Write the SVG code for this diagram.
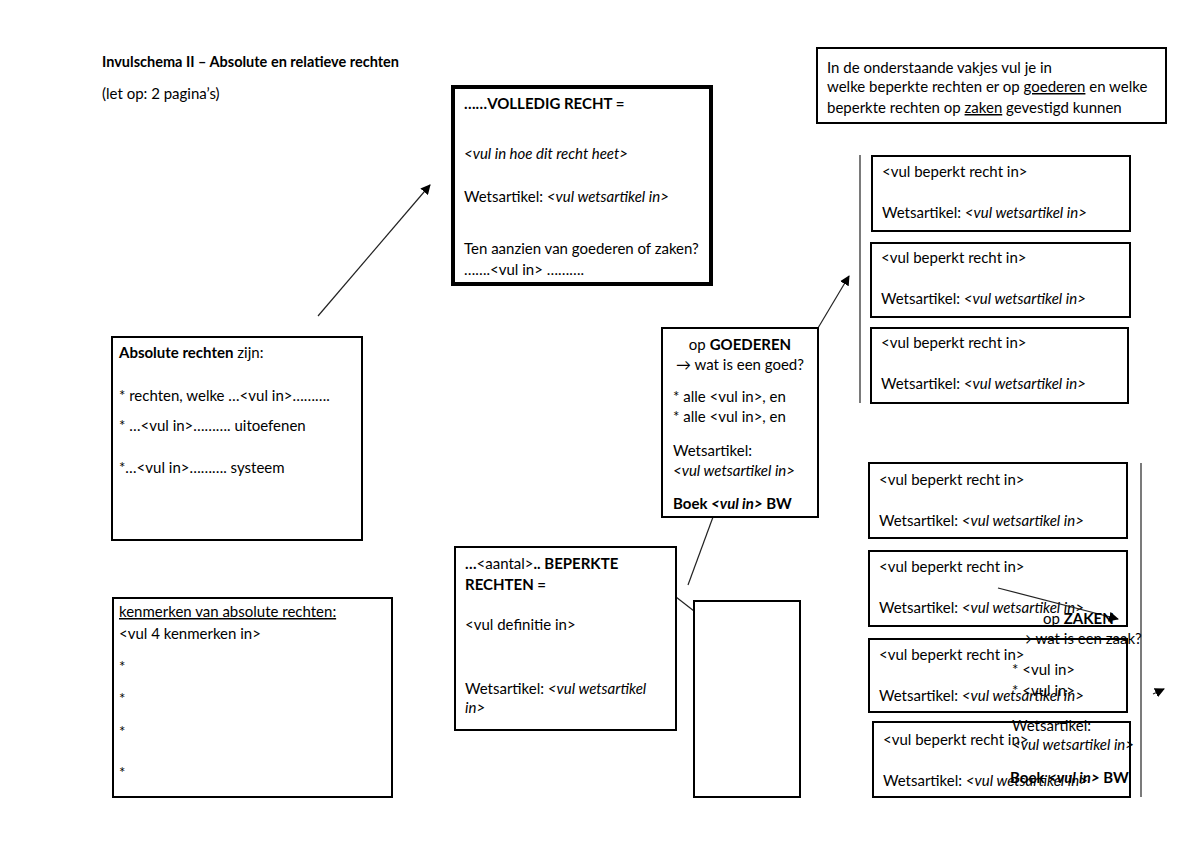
<svg xmlns="http://www.w3.org/2000/svg" width="1200" height="848" viewBox="0 0 1200 848">
<style>
.t{font-family:Lato,"Liberation Sans",sans-serif;font-size:15px;fill:#000}
.b{font-weight:bold}
.i{font-style:italic}
.u{text-decoration:underline}
.box{fill:#fff;stroke:#000;stroke-width:2}
.ln{stroke:#222;stroke-width:1.2;fill:none}
</style>
<defs>
<marker id="ah" viewBox="0 0 10 10" refX="9" refY="5" markerWidth="10" markerHeight="10" markerUnits="userSpaceOnUse" orient="auto">
<path d="M0,0 L10,5 L0,10 z" fill="#000"/>
</marker>
</defs>
<rect width="1200" height="848" fill="#fff"/>

<g id="title">
<text class="t b" x="102" y="67" style="font-size:14.5px">Invulschema II – Absolute en relatieve rechten</text>
<text class="t" x="102" y="99">(let op: 2 pagina’s)</text>
</g>

<g id="connectors">
<line class="ln" x1="318" y1="316" x2="430" y2="185" marker-end="url(#ah)"/>
<line class="ln" x1="818" y1="328" x2="849" y2="276" marker-end="url(#ah)"/>
<line class="ln" x1="713" y1="517" x2="688" y2="585"/>
<line class="ln" x1="676" y1="597" x2="694" y2="611"/>
<line class="ln" x1="860" y1="155" x2="860" y2="403"/>
<line class="ln" x1="1141" y1="463" x2="1141" y2="797"/>
</g>

<g id="volledig">
<rect x="453" y="87" width="258" height="197" fill="#fff" stroke="#000" stroke-width="4"/>
<text class="t b" x="464" y="109">……VOLLEDIG RECHT =</text>
<text class="t i" x="464" y="159">&lt;vul in hoe dit recht heet&gt;</text>
<text class="t" x="464" y="202">Wetsartikel: <tspan class="i">&lt;vul wetsartikel in&gt;</tspan></text>
<text class="t" x="464" y="254">Ten aanzien van goederen of zaken?</text>
<text class="t" x="464" y="275">…….&lt;vul in&gt; ……….</text>
</g>

<g id="note">
<rect class="box" x="817" y="48" width="349" height="75"/>
<text class="t" x="827" y="73">In de onderstaande vakjes vul je in</text>
<text class="t" x="827" y="92">welke beperkte rechten er op <tspan class="u">goederen</tspan> en welke</text>
<text class="t" x="827" y="113">beperkte rechten op <tspan class="u">zaken</tspan> gevestigd kunnen</text>
</g>

<g id="recht1">
<rect class="box" x="872" y="156" width="258" height="75"/>
<text class="t" x="882" y="177">&lt;vul beperkt recht in&gt;</text>
<text class="t" x="882" y="218">Wetsartikel:  <tspan class="i">&lt;vul wetsartikel in&gt;</tspan></text>
</g>
<g id="recht2">
<rect class="box" x="871" y="243" width="259" height="74"/>
<text class="t" x="881" y="263">&lt;vul beperkt recht in&gt;</text>
<text class="t" x="881" y="304">Wetsartikel:  <tspan class="i">&lt;vul wetsartikel in&gt;</tspan></text>
</g>
<g id="recht3">
<rect class="box" x="871" y="328" width="257" height="75"/>
<text class="t" x="881" y="348">&lt;vul beperkt recht in&gt;</text>
<text class="t" x="881" y="389">Wetsartikel:  <tspan class="i">&lt;vul wetsartikel in&gt;</tspan></text>
</g>

<g id="goederen">
<rect class="box" x="662" y="328" width="156" height="189"/>
<text class="t" x="740" y="350" text-anchor="middle">op <tspan class="b">GOEDEREN</tspan></text>
<text class="t" x="740" y="370" text-anchor="middle">→ wat is een goed?</text>
<text class="t" x="673" y="402">* alle &lt;vul in&gt;, en</text>
<text class="t" x="673" y="422">* alle &lt;vul in&gt;, en</text>
<text class="t" x="673" y="456">Wetsartikel:</text>
<text class="t i" x="673" y="476">&lt;vul wetsartikel in&gt;</text>
<text class="t b" x="673" y="509">Boek <tspan class="i">&lt;vul in&gt;</tspan> BW</text>
</g>

<g id="absolute">
<rect class="box" x="112" y="337" width="250" height="203"/>
<text class="t" x="119" y="358"><tspan class="b">Absolute rechten</tspan> zijn:</text>
<text class="t" x="119" y="401">* rechten, welke …&lt;vul in&gt;……….</text>
<text class="t" x="119" y="431">* …&lt;vul in&gt;………. uitoefenen</text>
<text class="t" x="119" y="473">*…&lt;vul in&gt;………. systeem</text>
</g>

<g id="kenmerken">
<rect class="box" x="113" y="598" width="279" height="199"/>
<text class="t u" x="119" y="617">kenmerken van absolute rechten:</text>
<text class="t" x="119" y="639">&lt;vul 4 kenmerken in&gt;</text>
<text class="t" x="119" y="672">*</text>
<text class="t" x="119" y="704">*</text>
<text class="t" x="119" y="737">*</text>
<text class="t" x="119" y="778">*</text>
</g>

<g id="beperkte">
<rect class="box" x="455" y="547" width="221" height="183"/>
<text class="t" x="465" y="569"><tspan class="b">…</tspan>&lt;aantal&gt;<tspan class="b">.. BEPERKTE</tspan></text>
<text class="t b" x="465" y="590">RECHTEN =</text>
<text class="t" x="465" y="630">&lt;vul definitie in&gt;</text>
<text class="t" x="465" y="694">Wetsartikel:  <tspan class="i">&lt;vul wetsartikel</tspan></text>
<text class="t i" x="465" y="713">in&gt;</text>
</g>

<g id="leeg">
<rect class="box" x="694" y="601" width="106" height="196"/>
</g>

<g id="recht4">
<rect class="box" x="869" y="463" width="258" height="75"/>
<text class="t" x="879" y="485">&lt;vul beperkt recht in&gt;</text>
<text class="t" x="879" y="526">Wetsartikel:  <tspan class="i">&lt;vul wetsartikel in&gt;</tspan></text>
</g>
<g id="recht5">
<rect class="box" x="869" y="551" width="258" height="75"/>
<text class="t" x="879" y="572">&lt;vul beperkt recht in&gt;</text>
<text class="t" x="879" y="613">Wetsartikel:  <tspan class="i">&lt;vul wetsartikel in&gt;</tspan></text>
</g>
<g id="recht6">
<rect class="box" x="869" y="639" width="258" height="73"/>
<text class="t" x="879" y="660">&lt;vul beperkt recht in&gt;</text>
<text class="t" x="879" y="701">Wetsartikel:  <tspan class="i">&lt;vul wetsartikel in&gt;</tspan></text>
</g>
<g id="recht7">
<rect class="box" x="873" y="722" width="257" height="75"/>
<text class="t" x="883" y="745">&lt;vul beperkt recht in&gt;</text>
<text class="t" x="883" y="786">Wetsartikel:  <tspan class="i">&lt;vul wetsartikel in&gt;</tspan></text>
</g>

<g id="zaken">
<line class="ln" x1="998" y1="588" x2="1118" y2="619" marker-end="url(#ah)"/>
<text class="t" x="1043" y="624">op <tspan class="b">ZAKEN</tspan></text>
<text class="t" x="1017" y="644">→ wat is een zaak?</text>
<text class="t" x="1012" y="675">* &lt;vul in&gt;</text>
<text class="t" x="1012" y="696">* &lt;vul in&gt;</text>
<text class="t" x="1012" y="731">Wetsartikel:</text>
<text class="t i" x="1012" y="750">&lt;vul wetsartikel in&gt;</text>
<text class="t b" x="1010" y="783">Boek <tspan class="i">&lt;vul in&gt;</tspan> BW</text>
<line x1="869" y1="639" x2="1127" y2="639" stroke="#000" stroke-width="2"/>
<line x1="873" y1="722" x2="1130" y2="722" stroke="#000" stroke-width="2"/>
<line class="ln" x1="1153" y1="694" x2="1164" y2="689" marker-end="url(#ah)"/>
</g>
</svg>
